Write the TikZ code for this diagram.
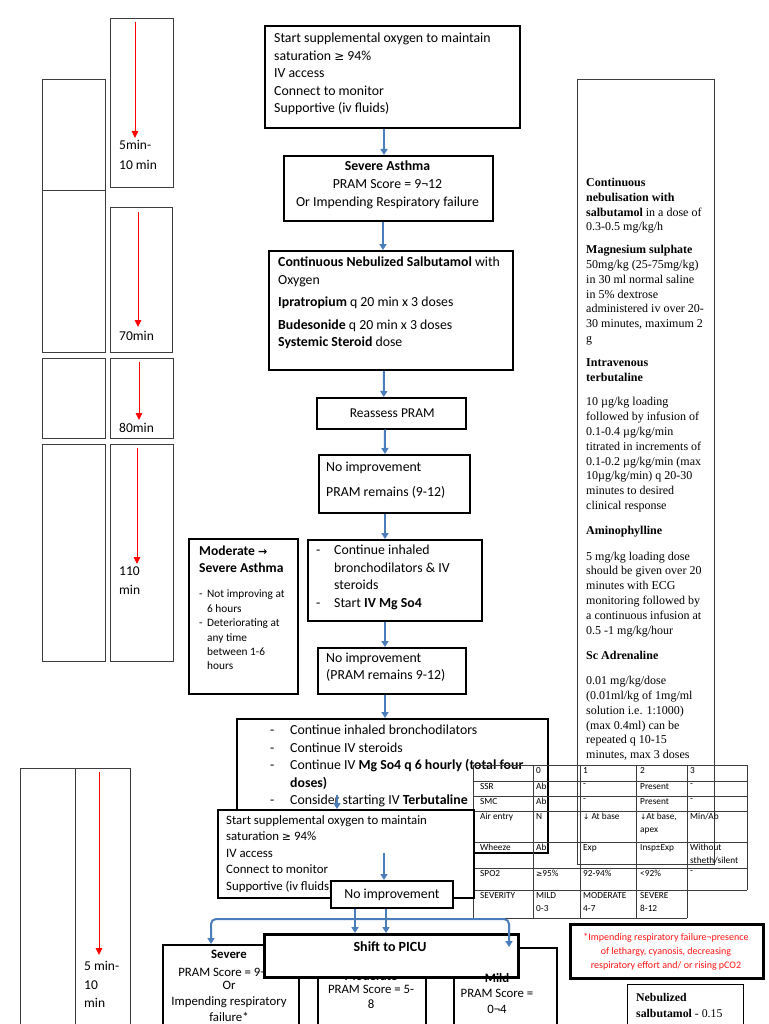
\documentclass[tikz,border=0pt]{standalone}
\usepackage{fontspec}
\setmainfont{Carlito}
\newfontfamily\sbfont{Liberation Serif}
\newfontfamily\dvfont{DejaVu Sans}
\usetikzlibrary{arrows.meta}
\definecolor{flowblue}{RGB}{74,126,187}
\definecolor{tgray}{RGB}{60,60,60}
\definecolor{notered}{RGB}{255,20,20}
\begin{document}
\begin{tikzpicture}[x=1pt,y=-1pt,
  bx/.style n args={2}{draw=black, line width=2pt, inner sep=0pt, anchor=north west, minimum width=#1pt, minimum height=#2pt},
  tbx/.style n args={2}{draw=tgray, line width=1pt, inner sep=0pt, anchor=north west, minimum width=#1pt, minimum height=#2pt},
  txt/.style={anchor=north west, inner sep=0pt, align=left, font=\fontsize{13.8}{17.5}\selectfont},
  ctxt/.style={anchor=north, inner sep=0pt, align=center, font=\fontsize{13.8}{17.5}\selectfont},
  flow/.style={draw=flowblue, line width=2pt, -{Triangle[width=7pt,length=6pt]}},
  redarr/.style={draw=red, line width=0.9pt, -{Triangle[width=6.5pt,length=7pt]}},
  tline/.style={draw=tgray, line width=0.8pt},
  tcell/.style={anchor=north west, inner sep=0pt, align=left, font=\fontsize{9.3}{13}\selectfont},
  sbtext/.style={anchor=north west, inner sep=0pt, align=left, font=\sbfont\fontsize{12}{14.8}\selectfont}
]
\useasboundingbox (0,0) rectangle (768,1024);
\fill[white] (0,0) rectangle (768,1024);

% ---------------- timeline boxes ----------------
\node[tbx={63}{111}] (l1) at (42,79) {};
\node[tbx={63}{162}] (l2) at (42,190) {};
\node[tbx={63}{80}] (l3) at (42,358) {};
\node[tbx={63}{217}] (l4) at (42,444) {};
\node[tbx={63}{169}] (r1) at (110,18) {};
\node[tbx={62}{145}] (r2) at (110,207) {};
\node[tbx={63}{80}] (r3) at (110,358) {};
\node[tbx={63}{217}] (r4) at (110,444) {};
\node[tbx={55}{270}] (bl1) at (20,768) {};
\node[tbx={55}{270}] (bl2) at (75,768) {};

\coordinate (t1s) at (135,22);  \coordinate (t1e) at (135,138);
\coordinate (t2s) at (138,212); \coordinate (t2e) at (138,327);
\coordinate (t3s) at (139,362); \coordinate (t3e) at (139,420);
\coordinate (t4s) at (137,448); \coordinate (t4e) at (137,564);
\coordinate (t5s) at (99,772);  \coordinate (t5e) at (99,955);
\draw[redarr] (t1s) -- (t1e);
\draw[redarr] (t2s) -- (t2e);
\draw[redarr] (t3s) -- (t3e);
\draw[redarr] (t4s) -- (t4e);
\draw[redarr] (t5s) -- (t5e);

\node[txt, font=\fontsize{13.5}{20}\selectfont] (tt1) at (119,140) {5min-\\10 min};
\node[txt, font=\fontsize{13.5}{20}\selectfont] (tt2) at (119,331) {70min};
\node[txt, font=\fontsize{13.5}{20}\selectfont] (tt3) at (119,423) {80min};
\node[txt, font=\fontsize{13.5}{19}\selectfont] (tt4) at (119,567) {110\\min};
\node[txt, font=\fontsize{13.5}{18.5}\selectfont] (tt5) at (84,961) {5 min-\\10\\min};

% ---------------- sidebar ----------------
\node[tbx={137}{785}, line width=0.8pt] (side) at (577,79) {};
\node[sbtext] (sidet) at (586,178) {%
\textbf{Continuous}\\
\textbf{nebulisation with}\\
\textbf{salbutamol} in a dose of\\
0.3-0.5 mg/kg/h\\[8pt]
\textbf{Magnesium sulphate}\\
50mg/kg (25-75mg/kg)\\
in 30 ml normal saline\\
in 5\% dextrose\\
administered iv over 20-\\
30 minutes, maximum 2\\
g\\[9pt]
\textbf{Intravenous}\\
\textbf{terbutaline}\\[10pt]
10 µg/kg loading\\
followed by infusion of\\
0.1-0.4 µg/kg/min\\
titrated in increments of\\
0.1-0.2 µg/kg/min (max\\
10µg/kg/min) q 20-30\\
minutes to desired\\
clinical response\\[10pt]
\textbf{Aminophylline}\\[11pt]
5 mg/kg loading dose\\
should be given over 20\\
minutes with ECG\\
monitoring followed by\\
a continuous infusion at\\
0.5 -1 mg/kg/hour\\[11pt]
\textbf{Sc Adrenaline}\\[10pt]
0.01 mg/kg/dose\\
(0.01ml/kg of 1mg/ml\\
solution i.e. 1:1000)\\
(max 0.4ml) can be\\
repeated q 10-15\\
minutes, max 3 doses};

% ---------------- main flow ----------------
\node[bx={255}{102}] (b1) at (264,25) {};
\node[txt] (b1t) at (274,33) {Start supplemental oxygen to maintain\\saturation {\dvfont\fontsize{12}{17.5}\selectfont ≥} 94\%\\IV access\\Connect to monitor\\Supportive (iv fluids)};

\node[bx={209}{65}] (b2) at (283,155) {};
\node[ctxt, font=\fontsize{13.8}{18}\selectfont] (b2t) at (387.5,161) {\textbf{Severe Asthma}\\PRAM Score = 9¬12\\Or Impending Respiratory failure};

\node[bx={244}{119}] (b3) at (268,250) {};
\node[txt] (b3t) at (278,257) {\textbf{Continuous Nebulized Salbutamol} with\\Oxygen\\[4.5pt]\textbf{Ipratropium} q 20 min x 3 doses\\[5.5pt]\textbf{Budesonide} q 20 min x 3 doses\\[-0.5pt]\textbf{Systemic Steroid} dose};

\node[bx={149}{31}, line width=1.5pt, font=\fontsize{13.5}{15}\selectfont] (b4) at (316,397) {\hspace*{2pt}Reassess PRAM};

\node[bx={151}{58}] (b5) at (318,454) {};
\node[txt] (b5t) at (326,462) {No improvement\\[7.5pt]PRAM remains (9-12)};

\node[bx={174}{81}] (b6) at (307,539) {};
\node[txt] (b6t) at (316,545) {\makebox[18pt][l]{-}Continue inhaled\\\hspace*{18pt}bronchodilators \& IV\\\hspace*{18pt}steroids\\\makebox[18pt][l]{-}Start \textbf{IV Mg So4}};

\node[bx={109}{155}] (mod) at (188,538) {};
\node[txt, font=\fontsize{13.6}{17}\bfseries] (modt) at (199,546) {Moderate {\dvfont\fontsize{11}{17}\selectfont →}\\Severe Asthma};
\node[txt, font=\fontsize{11.3}{14.4}\selectfont] (modb) at (199,590) {\makebox[8pt][l]{-}Not improving at\\\hspace*{8pt}6 hours\\\makebox[8pt][l]{-}Deteriorating at\\\hspace*{8pt}any time\\\hspace*{8pt}between 1-6\\\hspace*{8pt}hours};

\node[bx={148}{46}] (b7) at (317,647) {};
\node[txt, font=\fontsize{13.8}{17}\selectfont] (b7t) at (326,653) {No improvement\\(PRAM remains 9-12)};

\node[bx={311}{134}] (b8) at (236,718) {};
\node[txt] (b8t) at (270,725) {\makebox[20pt][l]{-}Continue inhaled bronchodilators\\\makebox[20pt][l]{-}Continue IV steroids\\\makebox[20pt][l]{-}Continue IV \textbf{Mg So4 q 6 hourly (total four}\\\hspace*{20pt}\textbf{doses)}\\\makebox[20pt][l]{-}Consider starting IV \textbf{Terbutaline}};

% ---------------- table ----------------
\foreach \yy in {765,781,796,811,842,868,890} {\draw[tline] (473,\yy) -- (747,\yy);}
\draw[tline] (473,918) -- (687,918);
\foreach \xx in {473,533,580,636,687} {\draw[tline] (\xx,765) -- (\xx,918);}
\draw[tline] (747,765) -- (747,890);
\node[tcell] (c01) at (536,767) {0};
\node[tcell] (c02) at (583,767) {1};
\node[tcell] (c03) at (640,767) {2};
\node[tcell] (c04) at (690,767) {3};
\node[tcell] (c10) at (480,783) {SSR};
\node[tcell] (c11) at (536,783) {Ab};
\node[tcell] (c12) at (583,783) {-};
\node[tcell] (c13) at (640,783) {Present};
\node[tcell] (c14) at (690,783) {-};
\node[tcell] (c20) at (480,798) {SMC};
\node[tcell] (c21) at (536,798) {Ab};
\node[tcell] (c22) at (583,798) {-};
\node[tcell] (c23) at (640,798) {Present};
\node[tcell] (c24) at (690,798) {-};
\node[tcell] (c30) at (480,813) {Air entry};
\node[tcell] (c31) at (536,813) {N};
\node[tcell] (c32) at (583,813) {{\dvfont\fontsize{7.5}{13}\selectfont ↓} At base};
\node[tcell] (c33) at (640,813) {{\dvfont\fontsize{7.5}{13}\selectfont ↓}At base,\\apex};
\node[tcell] (c34) at (690,813) {Min/Ab};
\node[tcell] (c40) at (480,844) {Wheeze};
\node[tcell] (c41) at (536,844) {Ab};
\node[tcell] (c42) at (583,844) {Exp};
\node[tcell] (c43) at (640,844) {Insp±Exp};
\node[tcell] (c44) at (690,844) {Without\\stheth/silent};
\node[tcell] (c50) at (480,870) {SPO2};
\node[tcell] (c51) at (536,870) {{\dvfont\fontsize{7.5}{13}\selectfont ≥}95\%};
\node[tcell] (c52) at (583,870) {92-94\%};
\node[tcell] (c53) at (640,870) {<92\%};
\node[tcell] (c54) at (690,870) {-};
\node[tcell] (c60) at (480,892) {SEVERITY};
\node[tcell] (c61) at (536,892) {MILD\\0-3};
\node[tcell] (c62) at (583,892) {MODERATE\\4-7};
\node[tcell] (c63) at (640,892) {SEVERE\\8-12};

% ---------------- lower flow ----------------
\node[bx={256}{88}, fill=white] (b9) at (217,809) {};
\node[txt, font=\fontsize{12.8}{16.5}\selectfont] (b9t) at (226,815) {Start supplemental oxygen to maintain\\saturation {\dvfont\fontsize{11}{16.5}\selectfont ≥} 94\%\\IV access\\Connect to monitor\\Supportive (iv fluids)};

\node[bx={122}{27}, fill=white, font=\fontsize{13.8}{15}\selectfont] (ni) at (330,880) {No improvement};

\node[bx={136}{100}] (sev) at (162,944) {};
\node[ctxt, font=\fontsize{12.8}{16}\selectfont] (sevt) at (229,950) {\textbf{Severe}\\[2pt]PRAM Score = 9¬12\\[-3pt]Or\\Impending respiratory\\failure*};
\node[bx={108}{90}] (mo2) at (317,958) {};
\node[ctxt, font=\fontsize{12.8}{15.5}\selectfont] (mo2t) at (371,971) {\textbf{Moderate}\\[-2.5pt]PRAM Score = 5-\\8};
\node[bx={103}{100}] (mild) at (453,947) {};

\node[bx={254}{43}, line width=3pt, fill=white] (sh) at (263,933) {};
\node[inner sep=0pt, font=\fontsize{14}{15}\bfseries] (sht) at (390,947) {Shift to PICU};
\node[ctxt, font=\fontsize{12.8}{16.5}\selectfont] (mildt) at (497,973) {\textbf{Mild}\\[-1.5pt]PRAM Score =\\0¬4};

\node[bx={193}{54}, line width=2.5pt, fill=white] (note) at (569,923) {};
\node[ctxt, text=notered, font=\fontsize{10}{14}\selectfont] (notet) at (666,933) {*Impending respiratory failure¬presence\\of lethargy, cyanosis, decreasing\\respiratory effort and/ or rising pCO2};

\node[tbx={116}{70}, draw=black, line width=1pt] (neb) at (627,984) {};
\node[sbtext, font=\sbfont\fontsize{11.8}{16}\selectfont] (nebt) at (636,993) {\textbf{Nebulized}\\\textbf{salbutamol} - 0.15};

% ---------------- connectors ----------------
\draw[flow] ([xshift=-8.5pt]b1.south) -- ([xshift=-4.5pt]b2.north);
\draw[flow] ([xshift=-5.5pt]b2.south) -- ([xshift=-8pt]b3.north);
\draw[flow] ([xshift=-7pt]b3.south) -- ([xshift=-7.5pt]b4.north);
\draw[flow] ([xshift=-6.5pt]b4.south) -- ([xshift=-9.5pt]b5.north);
\draw[flow] ([xshift=-9.5pt]b5.south) -- ([xshift=-10pt]b6.north);
\draw[flow] ([xshift=-10pt]b6.south) -- ([xshift=-7pt]b7.north);
\draw[flow] ([xshift=-7pt]b7.south) -- ([xshift=-7.5pt]b8.north);
\coordinate (a8s) at (337,795);
\draw[flow] (a8s) -- (b9.north -| a8s);
\coordinate (a9s) at (384,853);
\draw[flow] (a9s) -- (ni.north -| a9s);
\coordinate (x1) at (355,0);
\coordinate (x2) at (386,0);
\draw[flow] (ni.south -| x1) -- (sh.north -| x1);
\draw[flow] (ni.south -| x2) -- (sh.north -| x2);
\coordinate (fk) at (386,919);
\coordinate (fl) at (211,944);
\coordinate (fr) at (509,947);
\draw[flow, rounded corners=5pt] (fk) -| (fl);
\draw[flow, rounded corners=5pt] (fk) -| (fr);
\end{tikzpicture}
\end{document}
